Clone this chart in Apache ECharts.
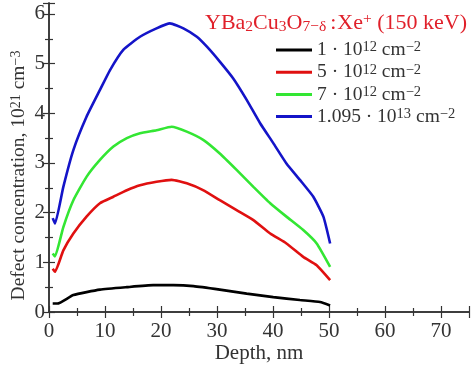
<!DOCTYPE html>
<html><head><meta charset="utf-8">
<script src="https://cdn.jsdelivr.net/npm/echarts@6/dist/echarts.min.js"></script>
<style>html,body{margin:0;padding:0;background:#fff}#c{width:474px;height:365px}</style>
</head><body><div id="c"></div>
<script>
const seriesNames = ['1e12', '5e12', '7e12', '1.095e13'];
const legendLabels = ['1 · 10{sup|12} cm{sup|−2}', '5 · 10{sup|12} cm{sup|−2}', '7 · 10{sup|12} cm{sup|−2}', '1.095 · 10{sup|13} cm{sup|−2}'];
const colors = ['#000000', '#e01010', '#33e633', '#1414c8'];

const blackX = [0.66, 1.5, 4.35, 9.1, 13.9, 18.6, 22.2, 25.8, 30.5, 35.3, 40.05, 44.8, 48.4, 50.2];
const blackY = [0.17, 0.17, 0.34, 0.45, 0.50, 0.54, 0.54, 0.52, 0.45, 0.37, 0.30, 0.24, 0.20, 0.13];

const redX = [0.66, 1.07, 2.56, 4.35, 6.7, 9.1, 11.5, 13.9, 16.25, 19.2, 21.9, 24.6, 27.6, 30.5, 33.5, 36.5, 39.5, 42.4, 45.4, 47.8, 50.2];
const redY = [0.87, 0.81, 1.24, 1.58, 1.92, 2.19, 2.32, 2.45, 2.55, 2.62, 2.66, 2.59, 2.45, 2.25, 2.05, 1.85, 1.58, 1.38, 1.11, 0.94, 0.64];

const greenX = [0.66, 1.07, 2.56, 4.35, 6.7, 9.1, 11.5, 13.9, 16.25, 19.2, 21.9, 24.6, 27.6, 30.5, 33.5, 36.5, 39.5, 42.4, 45.4, 47.8, 50.2];
const greenY = [1.18, 1.12, 1.71, 2.25, 2.72, 3.06, 3.33, 3.50, 3.60, 3.66, 3.73, 3.63, 3.46, 3.19, 2.86, 2.52, 2.19, 1.92, 1.65, 1.38, 0.91];

const blueX = [0.66, 1.07, 2.56, 4.35, 6.7, 9.1, 10.9, 13.3, 16.25, 19.2, 21.6, 24.0, 26.4, 28.2, 30.5, 32.9, 35.3, 37.7, 40.05, 42.4, 44.8, 47.2, 49.0, 50.2];
const blueY = [1.89, 1.78, 2.52, 3.26, 3.93, 4.47, 4.87, 5.28, 5.54, 5.71, 5.81, 5.71, 5.54, 5.34, 5.04, 4.70, 4.27, 3.80, 3.40, 2.99, 2.66, 2.32, 1.92, 1.38];

const xs = [blackX, redX, greenX, blueX];
const ys = [blackY, redY, greenY, blueY];

const FONT = '"Liberation Serif", "Times New Roman", serif';
const axisColor = '#333';

function mkAxis(extra) {
  return Object.assign({
    type: 'value',
    nameMoveOverlap: false,
    axisLine: { show: true, lineStyle: { color: axisColor, width: 1.5 } },
    axisTick: { show: true, inside: true, length: 6, lineStyle: { color: axisColor, width: 1.2 } },
    minorTick: { show: true, splitNumber: 2, length: 4, lineStyle: { color: axisColor, width: 1.2 } },
    splitLine: { show: false },
    axisLabel: { show: false }
  }, extra);
}

const labelStyle = { show: true, fontFamily: FONT, fontSize: 21, color: '#333', showMaxLabel: false };

const option = {
  animation: false,
  textStyle: { fontFamily: FONT },
  grid: { left: 49, right: 5, top: 3, bottom: 53, containLabel: false, outerBoundsMode: 'none' },
  title: {
    text: 'YBa{sub|2}Cu{sub|3}O{sub|7−δ}{b|:}Xe{sup|+} (150 keV)',
    left: 205, top: 11, padding: 0,
    textStyle: {
      fontFamily: FONT, fontSize: 22, fontWeight: 'normal', color: '#e0202a', lineHeight: 24,
      rich: {
        sub: { fontFamily: FONT, fontSize: 15.5, color: '#e0202a', verticalAlign: 'bottom', lineHeight: 18, padding: [9, 0, 0, 0] },
        sup: { fontFamily: FONT, fontSize: 15.5, color: '#e0202a', verticalAlign: 'top', lineHeight: 18, padding: [0, 0, 8, 0] },
        b: { fontFamily: FONT, fontSize: 22, color: '#e0202a', padding: [0, 1, 0, 4] }
      }
    }
  },
  legend: {
    orient: 'vertical',
    left: 276, top: 40, padding: 0,
    itemWidth: 36, itemHeight: 3, itemGap: 1.2,
    icon: 'rect',
    data: seriesNames,
    formatter: function (name) { return legendLabels[seriesNames.indexOf(name)]; },
    textStyle: {
      fontFamily: FONT, fontSize: 19.5, color: '#333', lineHeight: 20,
      rich: { sup: { fontFamily: FONT, fontSize: 14.5, color: '#333', verticalAlign: 'top', lineHeight: 14, padding: [0, 0, 6, 0] } }
    }
  },
  xAxis: [
    mkAxis({ position: 'bottom', min: 0, max: 75, interval: 10,
      axisLabel: Object.assign({ margin: 9 }, labelStyle),
      name: 'Depth, nm', nameLocation: 'middle', nameGap: 31,
      nameTextStyle: { fontFamily: FONT, fontSize: 21, color: '#333' } }),
    mkAxis({ position: 'top', min: 0, max: 75, interval: 10 })
  ],
  yAxis: [
    mkAxis({ position: 'left', min: 0, max: 6.22, interval: 1,
      axisLabel: Object.assign({ margin: 4 }, labelStyle),
      name: 'Defect concentration, 10{sup|21} cm{sup|−3}', nameLocation: 'middle', nameGap: 20,
      nameTextStyle: { fontFamily: FONT, fontSize: 19.5, color: '#333', padding: [0, 36, 0, 0],
        rich: { sup: { fontFamily: FONT, fontSize: 14, color: '#333', verticalAlign: 'top', lineHeight: 14, padding: [0, 0, 6, 0] } } } }),
    mkAxis({ position: 'right', min: 0, max: 6.22, interval: 1 })
  ],
  series: seriesNames.map((n, i) => ({
    name: n, type: 'line', xAxisIndex: 0, yAxisIndex: 0,
    showSymbol: false, symbol: 'none', smooth: 0.15,
    color: colors[i],
    lineStyle: { color: colors[i], width: 2.6 },
    data: xs[i].map((x, j) => [x, ys[i][j]])
  }))
};

const chart = echarts.init(document.getElementById('c'), null, { renderer: 'canvas' });
chart.setOption(option);
</script>
</body></html>
